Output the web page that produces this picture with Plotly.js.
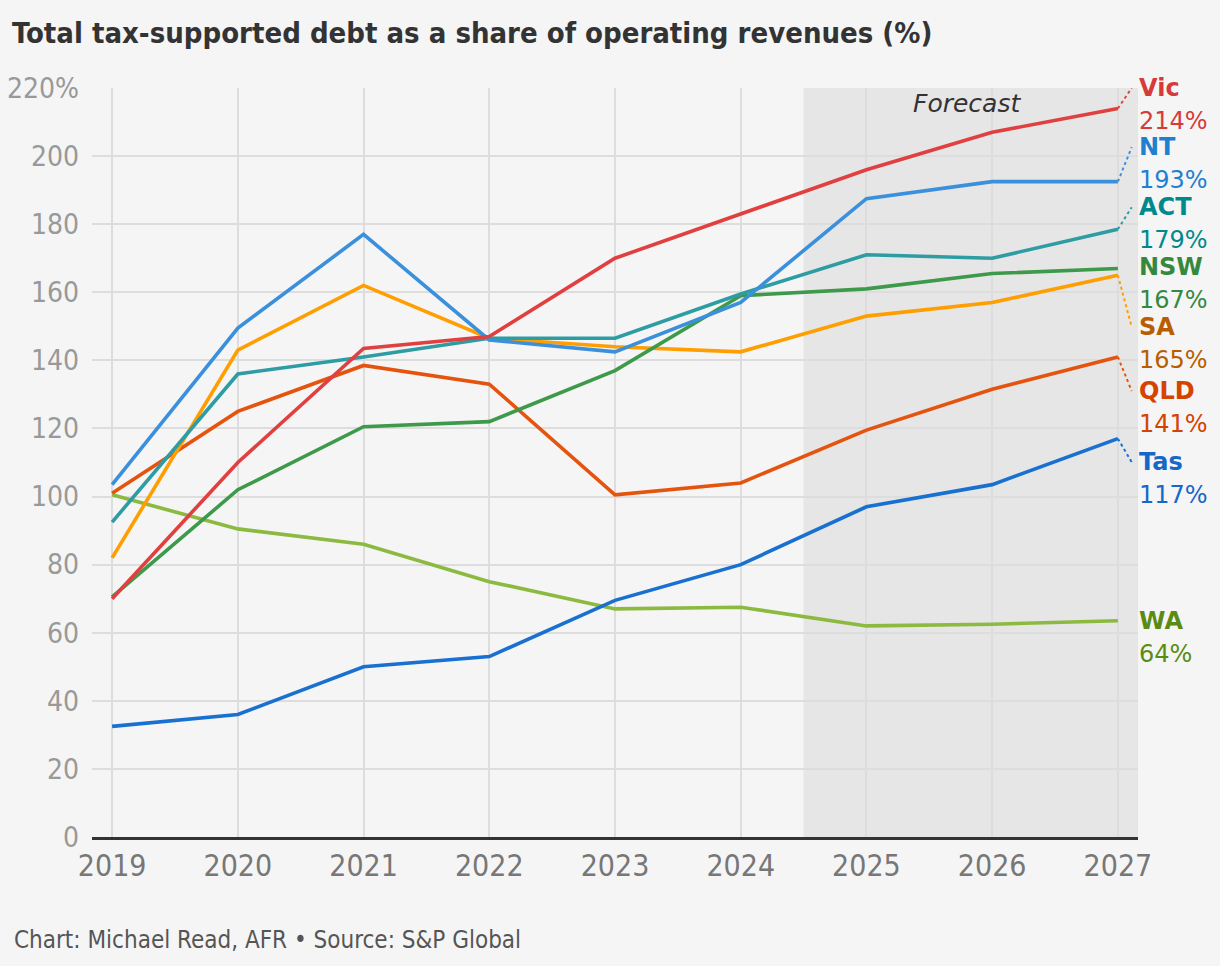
<!DOCTYPE html>
<html>
<head>
<meta charset="utf-8">
<script src="https://cdn.plot.ly/plotly-3.0.1.min.js"></script>
<style>
  html, body { margin: 0; padding: 0; background: #f5f5f5; }
  #chart { width: 1220px; height: 966px; }
</style>
</head>
<body>
<div id="chart"></div>
<script>
// values
const years = [2019, 2020, 2021, 2022, 2023, 2024, 2025, 2026, 2027]
const states = ['WA', 'Tas', 'QLD', 'SA', 'NSW', 'ACT', 'NT', 'Vic']

const wa = [100.5, 90.5, 86, 75, 67, 67.5, 62, 62.5, 63.5]
const tas = [32.5, 36, 50, 53, 69.5, 80, 97, 103.5, 117]
const qld = [101, 125, 138.5, 133, 100.5, 104, 119.5, 131.5, 141]
const sa = [82, 143, 162, 146.5, 144, 142.5, 153, 157, 165]
const nsw = [70.5, 102, 120.5, 122, 137, 159, 161, 165.5, 167]
const act = [92.5, 136, 141, 146.5, 146.5, 159.5, 171, 170, 178.5]
const nt = [103.5, 149.5, 177, 146, 142.5, 157, 187.5, 192.5, 192.5]
const vic = [70, 110, 143.5, 147, 170, 183, 196, 207, 214]

const yTicks = [0, 20, 40, 60, 80, 100, 120, 140, 160, 180, 200, 220]
const forecastStart = 2024.5

const seriesValues = [wa, tas, qld, sa, nsw, act, nt, vic]

// styling, kept apart from the values
const lineColors = ['#8cba40', '#1870d0', '#e5540f', '#ff9e00', '#3d9a4a', '#2e9ca3', '#3b90dc', '#e04040']
const labelColors = ['#5a8c14', '#1668c8', '#d54300', '#b85e00', '#34893e', '#00898c', '#1f7fd0', '#d63b3b']
// where each end label sits (in axis units) once spread out to avoid overlap
const labelY = [63.4, 110.1, 131.0, 149.8, 167.4, 185.0, 202.6, 220]

const xMax = 2027.16
const narrow = '"DejaVu Sans Condensed", "DejaVu Sans", sans-serif'
const labelFont = '"DejaVu Sans", sans-serif'

const data = states.map((name, i) => ({
    x: years,
    y: seriesValues[i],
    name: name,
    mode: 'lines',
    type: 'scatter',
    line: { color: lineColors[i], width: 3.6 },
    hoverinfo: 'skip',
    cliponaxis: false
}))

const annotations = []
const shapes = [{
    type: 'rect', layer: 'below',
    xref: 'x', yref: 'y',
    x0: forecastStart, x1: xMax, y0: 0, y1: 220,
    fillcolor: '#e6e6e6', line: { width: 0 }
}]

states.forEach((name, i) => {
    const vals = seriesValues[i]
    const last = vals[vals.length - 1]
    annotations.push({
        xref: 'paper', yref: 'y', x: 0.9995, y: labelY[i],
        xanchor: 'left', yanchor: 'middle', showarrow: false,
        text: '<b>' + name + '</b>',
        font: { family: labelFont, size: 24, color: labelColors[i] }
    })
    annotations.push({
        xref: 'paper', yref: 'y', x: 0.9995, y: labelY[i], yshift: -33,
        xanchor: 'left', yanchor: 'middle', showarrow: false,
        text: Math.round(last) + '%',
        font: { family: labelFont, size: 24, color: labelColors[i] }
    })
    if (Math.abs(labelY[i] - last) > 1) {
        shapes.push({
            type: 'line', xref: 'x', yref: 'y',
            x0: years[years.length - 1], y0: last, x1: 2027.11, y1: labelY[i],
            line: { color: lineColors[i], width: 2, dash: 'dot' }
        })
    }
})

annotations.push({
    xref: 'x', yref: 'y', x: 2025.8, y: 215.5,
    xanchor: 'center', yanchor: 'middle', showarrow: false,
    text: '<i>Forecast</i>',
    font: { family: labelFont, size: 25, color: '#333333' }
})

annotations.push({
    xref: 'paper', yref: 'paper', x: -0.0765, y: -0.1375,
    xanchor: 'left', yanchor: 'middle', showarrow: false,
    text: 'Chart: Michael Read, AFR • Source: S&P Global',
    font: { family: narrow, size: 24, color: '#555555' }
})

const layout = {
    width: 1220,
    height: 966,
    paper_bgcolor: '#f5f5f5',
    plot_bgcolor: 'rgba(0,0,0,0)',
    showlegend: false,
    margin: { l: 92, r: 82, t: 88, b: 129, pad: 0 },
    title: {
        text: '<b>Total tax-supported debt as a share of operating revenues (%)</b>',
        xref: 'container', yref: 'container',
        x: 12 / 1220, xanchor: 'left',
        y: 1 - 33 / 966, yanchor: 'middle',
        font: { family: narrow, size: 29, color: '#333333' }
    },
    xaxis: {
        range: [2018.84, xMax],
        tickvals: years,
        ticktext: years.map(String),
        showgrid: true,
        gridcolor: '#dddddd',
        gridwidth: 2,
        zeroline: false,
        showline: true,
        linecolor: '#333333',
        linewidth: 2.5,
        ticks: '',
        tickfont: { family: narrow, size: 30, color: '#777777' }
    },
    yaxis: {
        range: [0, 220],
        tickvals: yTicks,
        ticktext: yTicks.map(v => v === 220 ? v + '%' : String(v)),
        showgrid: true,
        gridcolor: '#dddddd',
        gridwidth: 2,
        zeroline: false,
        showline: false,
        ticks: '',
        ticklabelstandoff: 12,
        tickfont: { family: narrow, size: 28, color: '#999999' }
    },
    shapes: shapes,
    annotations: annotations
}

Plotly.newPlot('chart', data, layout, { displayModeBar: false, staticPlot: true })
</script>
</body>
</html>
